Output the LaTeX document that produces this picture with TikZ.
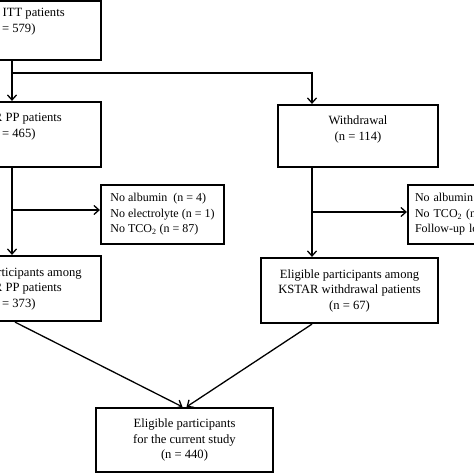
\documentclass[tikz,border=0pt]{standalone}
\usepackage{fontspec}
\setmainfont{Liberation Serif}
\usetikzlibrary{calc}
\usetikzlibrary{arrows.meta}

\begin{document}
\begin{tikzpicture}[x=1pt,y=-1pt,
        box/.style={draw=black,rectangle,line width=2.2pt,inner sep=0pt,align=center,minimum width=178pt,minimum height=65pt,font=\fontsize{12.6}{15.5}\selectfont},
        excl/.style={draw=black,rectangle,line width=2.2pt,inner sep=0pt,align=left,minimum width=123pt,minimum height=59pt,font=\fontsize{12}{15.5}\selectfont},
        arr/.style={line width=1.3pt,-{Straight Barb[length=5pt,width=9pt]}}
      ]
      \useasboundingbox (0,0) rectangle (474,474);
      \clip (0,0) rectangle (474,474);
      \node[box,minimum height=59pt] (itt) at (12,30.5) {KSTAR ITT patients\\(n = 579)\\[5pt]\mbox{}};
      \node[box] (pp) at (12,134.5) {KSTAR PP patients\\(n = 465)\\[3pt]\mbox{}};
      \node[box] (elpp) at (12,288.5) {Eligible participants among\\KSTAR PP patients\\(n = 373)};
      \node[box,minimum width=160pt,minimum height=62pt] (wd) at (358,136) {Withdrawal\\(n = 114)\\\mbox{}};
      \node[box,minimum width=177pt] (elwd) at (349.5,290.5) {Eligible participants among\\KSTAR withdrawal patients\\(n = 67)};
      \node[excl] (exl) at (162.5,214.5) {No albumin\ \ (n = 4)\\No electrolyte (n = 1)\\No TCO\textsubscript{2} (n = 87)};
      \node[excl,text width=120pt,inner xsep=7pt] (exr) at (475,214.5) {No albumin (n\\No TCO\textsubscript{2} (n\\Follow-up loss};
      \node[box,minimum width=177pt,minimum height=64pt] (final) at (184.5,440) {Eligible participants\\for the current study\\(n = 440)};
      \coordinate (rcol) at (312,0);
      \coordinate (split1) at (12,73);
      \coordinate (split2) at (12,210);
      \coordinate (split3) at (312,212);
      \draw[arr] (itt.south) -- (pp.north);
      \draw[arr] (split1) -| (wd.north -| rcol);
      \draw[arr] (pp.south) -- (elpp.north);
      \draw[arr] (split2) -- (split2 -| exl.west);
      \draw[arr] (wd.south -| rcol) -- (elwd.north -| rcol);
      \draw[arr] (split3) -- (split3 -| exr.west);
      \draw[arr] ($(elpp.south)+(3,0)$) -- ($(final.north)+(-2,0)$);
      \draw[arr] (elwd.south -| rcol) -- ($(final.north)+(2,0)$);
    \end{tikzpicture}
\end{document}
